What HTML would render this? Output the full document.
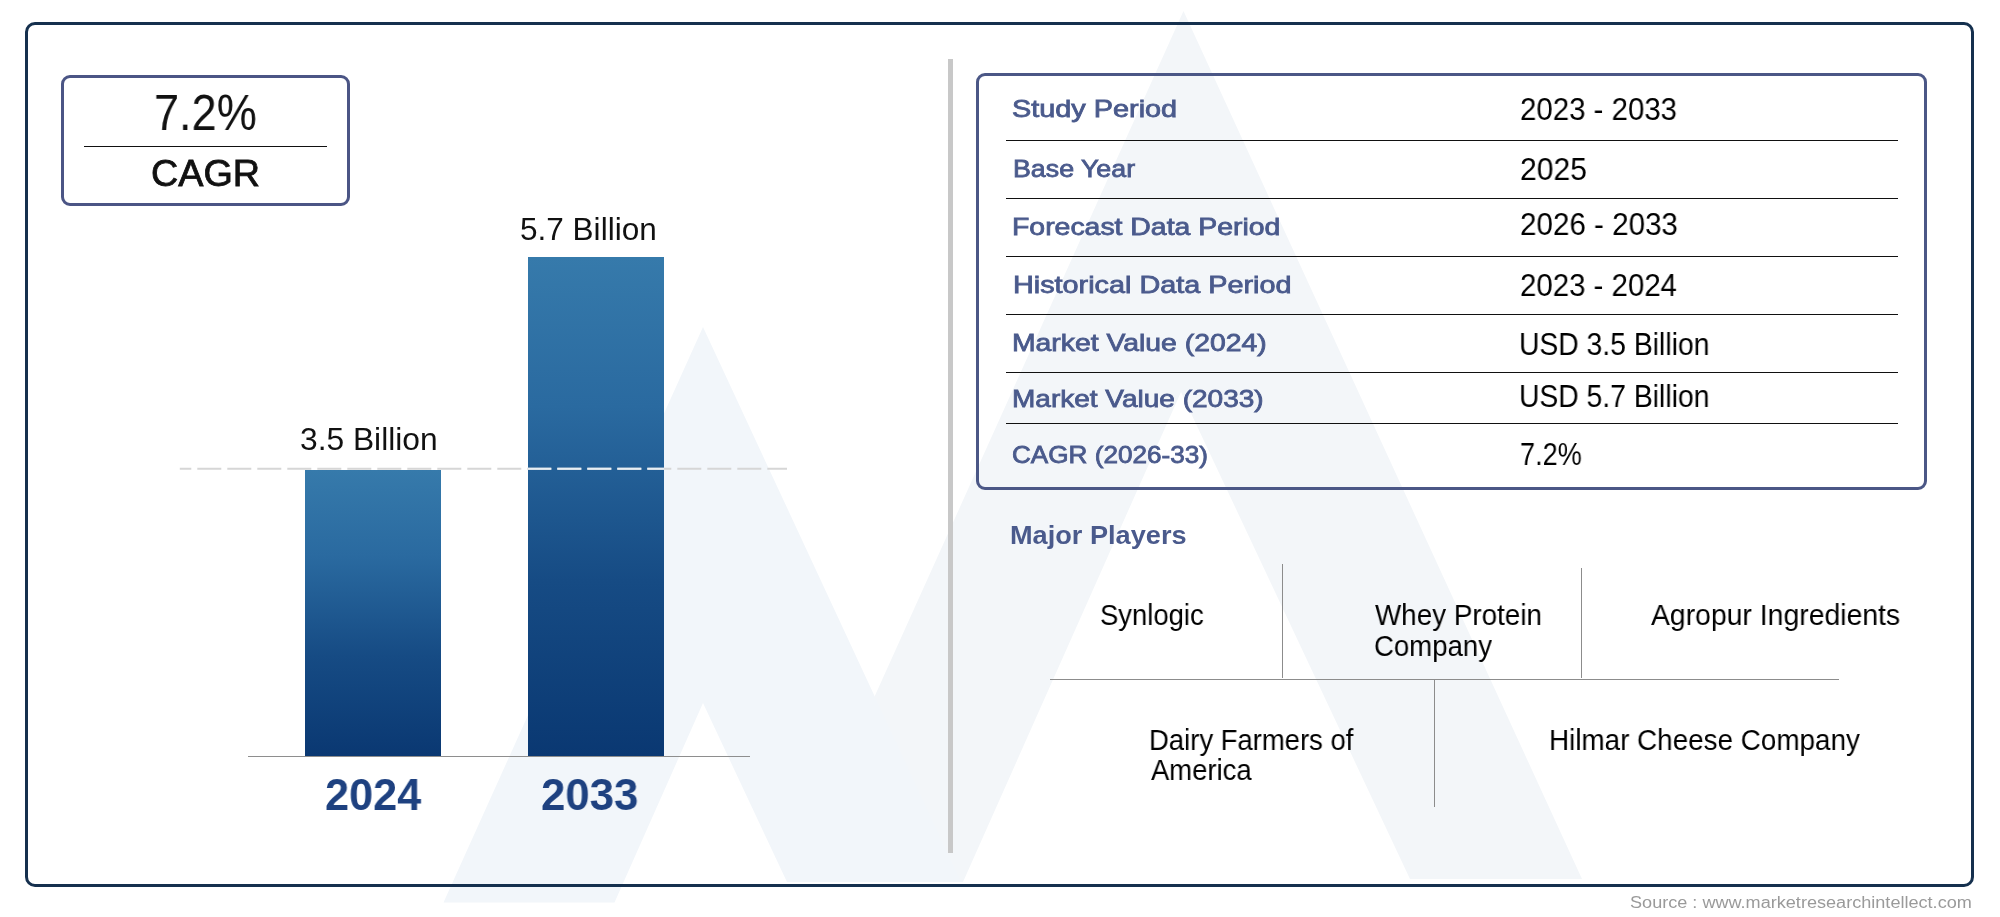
<!DOCTYPE html>
<html>
<head>
<meta charset="utf-8">
<title>Market Overview</title>
<style>
html,body{margin:0;padding:0;background:#fff;}
body{width:2000px;height:917px;position:relative;overflow:hidden;font-family:"Liberation Sans",sans-serif;}
.abs{position:absolute;}
.t{position:absolute;white-space:pre;line-height:1;transform-origin:0 0;will-change:transform;font-family:"Liberation Sans",sans-serif;}
.frame{left:25px;top:22px;width:1949px;height:865px;box-sizing:border-box;border:3px solid #15304e;border-radius:10px;}
.cagr{left:61px;top:75px;width:289px;height:131px;box-sizing:border-box;border:3px solid #4b5585;border-radius:9px;}
.tbl{left:976px;top:73px;width:951px;height:417px;box-sizing:border-box;border:3px solid #4b5786;border-radius:9px;}
.hl{height:1.4px;background:#111;left:1006px;width:892px;}
.gl{background:#8c8c8c;}
.bar{background:linear-gradient(180deg,#367aab 0%,#2a6aa0 30%,#164b84 65%,#0a3872 100%);}
</style>
</head>
<body>
<!-- watermark -->
<svg class="abs" style="left:0;top:0" width="2000" height="917" viewBox="0 0 2000 917">
  <!-- big peak -->
  <path fill="#f3f6f9" d="M1183.5 11 L791 882 L963 882 L1181 392 L1410 879 L1582 879 Z"/>
  <!-- small peak -->
  <path fill="#f2f6fa" d="M703 327 L443.5 902.5 L614.5 902.5 L703 703 L787 882 L961 882 Z"/>
</svg>
<div class="abs frame"></div>
<div class="abs cagr"></div>
<div class="abs" style="left:84px;top:145.8px;width:243px;height:1.2px;background:#111"></div>
<!-- bars -->
<div class="abs bar" style="left:305px;top:470px;width:136px;height:286px"></div>
<div class="abs bar" style="left:528px;top:257px;width:136px;height:499px"></div>
<div class="abs" style="left:248px;top:755.6px;width:502px;height:1.1px;background:#8e8e8e"></div>
<svg class="abs" style="left:0;top:460px" width="900" height="20" viewBox="0 0 900 20">
  <line x1="179.8" y1="8.8" x2="787" y2="8.8" stroke="#d6d6d6" stroke-width="2" stroke-dasharray="24 6" stroke-dashoffset="12.5"/>
  <line x1="528" y1="8.8" x2="664" y2="8.8" stroke="#e7eef4" stroke-width="2" stroke-dasharray="24 6" stroke-dashoffset="0.7"/>
</svg>
<!-- divider -->
<div class="abs" style="left:948px;top:59px;width:5px;height:794px;background:#c8c8c8"></div>
<!-- table -->
<div class="abs tbl"></div>
<div class="abs hl" style="top:139.7px"></div>
<div class="abs hl" style="top:197.9px"></div>
<div class="abs hl" style="top:255.7px"></div>
<div class="abs hl" style="top:313.8px"></div>
<div class="abs hl" style="top:371.6px"></div>
<div class="abs hl" style="top:422.5px"></div>
<!-- players grid -->
<div class="abs gl" style="left:1050px;top:678.5px;width:789px;height:1.3px"></div>
<div class="abs gl" style="left:1281.7px;top:564px;width:1.3px;height:114px"></div>
<div class="abs gl" style="left:1580.8px;top:568px;width:1.3px;height:110px"></div>
<div class="abs gl" style="left:1433.7px;top:679px;width:1.3px;height:128px"></div>
<div class="t" style="left:154.17px;top:88.40px;font-size:49.2px;font-weight:400;color:#111;transform:scaleX(0.9162);">7.2%</div>
<div class="t" style="left:151.28px;top:156.40px;font-size:36.6px;font-weight:400;color:#111;transform:scaleX(1.0321);-webkit-text-stroke:0.8px #111;">CAGR</div>
<div class="t" style="left:519.80px;top:213.90px;font-size:31.5px;font-weight:400;color:#111;transform:scaleX(1.0010);">5.7 Billion</div>
<div class="t" style="left:300.19px;top:423.50px;font-size:31.5px;font-weight:400;color:#111;transform:scaleX(1.0077);">3.5 Billion</div>
<div class="t" style="left:325.03px;top:773.20px;font-size:44.5px;font-weight:700;color:#1e4180;transform:scaleX(0.9720);">2024</div>
<div class="t" style="left:541.02px;top:773.20px;font-size:44.5px;font-weight:700;color:#1e4180;transform:scaleX(0.9831);">2033</div>
<div class="t" style="left:1012.07px;top:97.10px;font-size:23.8px;font-weight:400;color:#4a5a8c;transform:scaleX(1.2120);-webkit-text-stroke:0.8px #4a5a8c;">Study Period</div>
<div class="t" style="left:1012.73px;top:157.20px;font-size:23.8px;font-weight:400;color:#4a5a8c;transform:scaleX(1.1249);-webkit-text-stroke:0.8px #4a5a8c;">Base Year</div>
<div class="t" style="left:1012.48px;top:214.80px;font-size:23.8px;font-weight:400;color:#4a5a8c;transform:scaleX(1.1933);-webkit-text-stroke:0.8px #4a5a8c;">Forecast Data Period</div>
<div class="t" style="left:1012.97px;top:272.50px;font-size:23.8px;font-weight:400;color:#4a5a8c;transform:scaleX(1.2099);-webkit-text-stroke:0.8px #4a5a8c;">Historical Data Period</div>
<div class="t" style="left:1012.49px;top:330.80px;font-size:23.8px;font-weight:400;color:#4a5a8c;transform:scaleX(1.1908);-webkit-text-stroke:0.8px #4a5a8c;">Market Value (2024)</div>
<div class="t" style="left:1012.49px;top:386.90px;font-size:23.8px;font-weight:400;color:#4a5a8c;transform:scaleX(1.1767);-webkit-text-stroke:0.8px #4a5a8c;">Market Value (2033)</div>
<div class="t" style="left:1012.14px;top:443.40px;font-size:23.8px;font-weight:400;color:#4a5a8c;transform:scaleX(1.0979);-webkit-text-stroke:0.8px #4a5a8c;">CAGR (2026-33)</div>
<div class="t" style="left:1520.04px;top:94.40px;font-size:30.5px;font-weight:400;color:#000;transform:scaleX(0.9643);">2023 - 2033</div>
<div class="t" style="left:1520.01px;top:154.30px;font-size:30.5px;font-weight:400;color:#000;transform:scaleX(0.9850);">2025</div>
<div class="t" style="left:1520.03px;top:208.90px;font-size:30.5px;font-weight:400;color:#000;transform:scaleX(0.9699);">2026 - 2033</div>
<div class="t" style="left:1520.04px;top:269.50px;font-size:30.5px;font-weight:400;color:#000;transform:scaleX(0.9639);">2023 - 2024</div>
<div class="t" style="left:1519.44px;top:328.90px;font-size:30.5px;font-weight:400;color:#000;transform:scaleX(0.9281);">USD 3.5 Billion</div>
<div class="t" style="left:1519.44px;top:380.70px;font-size:30.5px;font-weight:400;color:#000;transform:scaleX(0.9281);">USD 5.7 Billion</div>
<div class="t" style="left:1519.91px;top:439.10px;font-size:30.5px;font-weight:400;color:#000;transform:scaleX(0.8874);">7.2%</div>
<div class="t" style="left:1009.52px;top:523.30px;font-size:25.2px;font-weight:700;color:#4a5a8c;transform:scaleX(1.0779);">Major Players</div>
<div class="t" style="left:1100.38px;top:600.10px;font-size:29.8px;font-weight:400;color:#000;transform:scaleX(0.9210);">Synlogic</div>
<div class="t" style="left:1375.40px;top:600.40px;font-size:29.8px;font-weight:400;color:#000;transform:scaleX(0.9335);">Whey Protein</div>
<div class="t" style="left:1374.48px;top:630.50px;font-size:29.8px;font-weight:400;color:#000;transform:scaleX(0.9248);">Company</div>
<div class="t" style="left:1651.00px;top:600.40px;font-size:29.8px;font-weight:400;color:#000;transform:scaleX(0.9520);">Agropur Ingredients</div>
<div class="t" style="left:1149.16px;top:725.20px;font-size:29.8px;font-weight:400;color:#000;transform:scaleX(0.9213);">Dairy Farmers of</div>
<div class="t" style="left:1151.00px;top:755.00px;font-size:29.8px;font-weight:400;color:#000;transform:scaleX(0.9206);">America</div>
<div class="t" style="left:1549.43px;top:725.40px;font-size:29.8px;font-weight:400;color:#000;transform:scaleX(0.9340);">Hilmar Cheese Company</div>
<div class="t" style="left:1630.00px;top:894.00px;font-size:17.3px;font-weight:400;color:#9a9a9a;transform:scaleX(1.0468);">Source : www.marketresearchintellect.com</div>
</body>
</html>
